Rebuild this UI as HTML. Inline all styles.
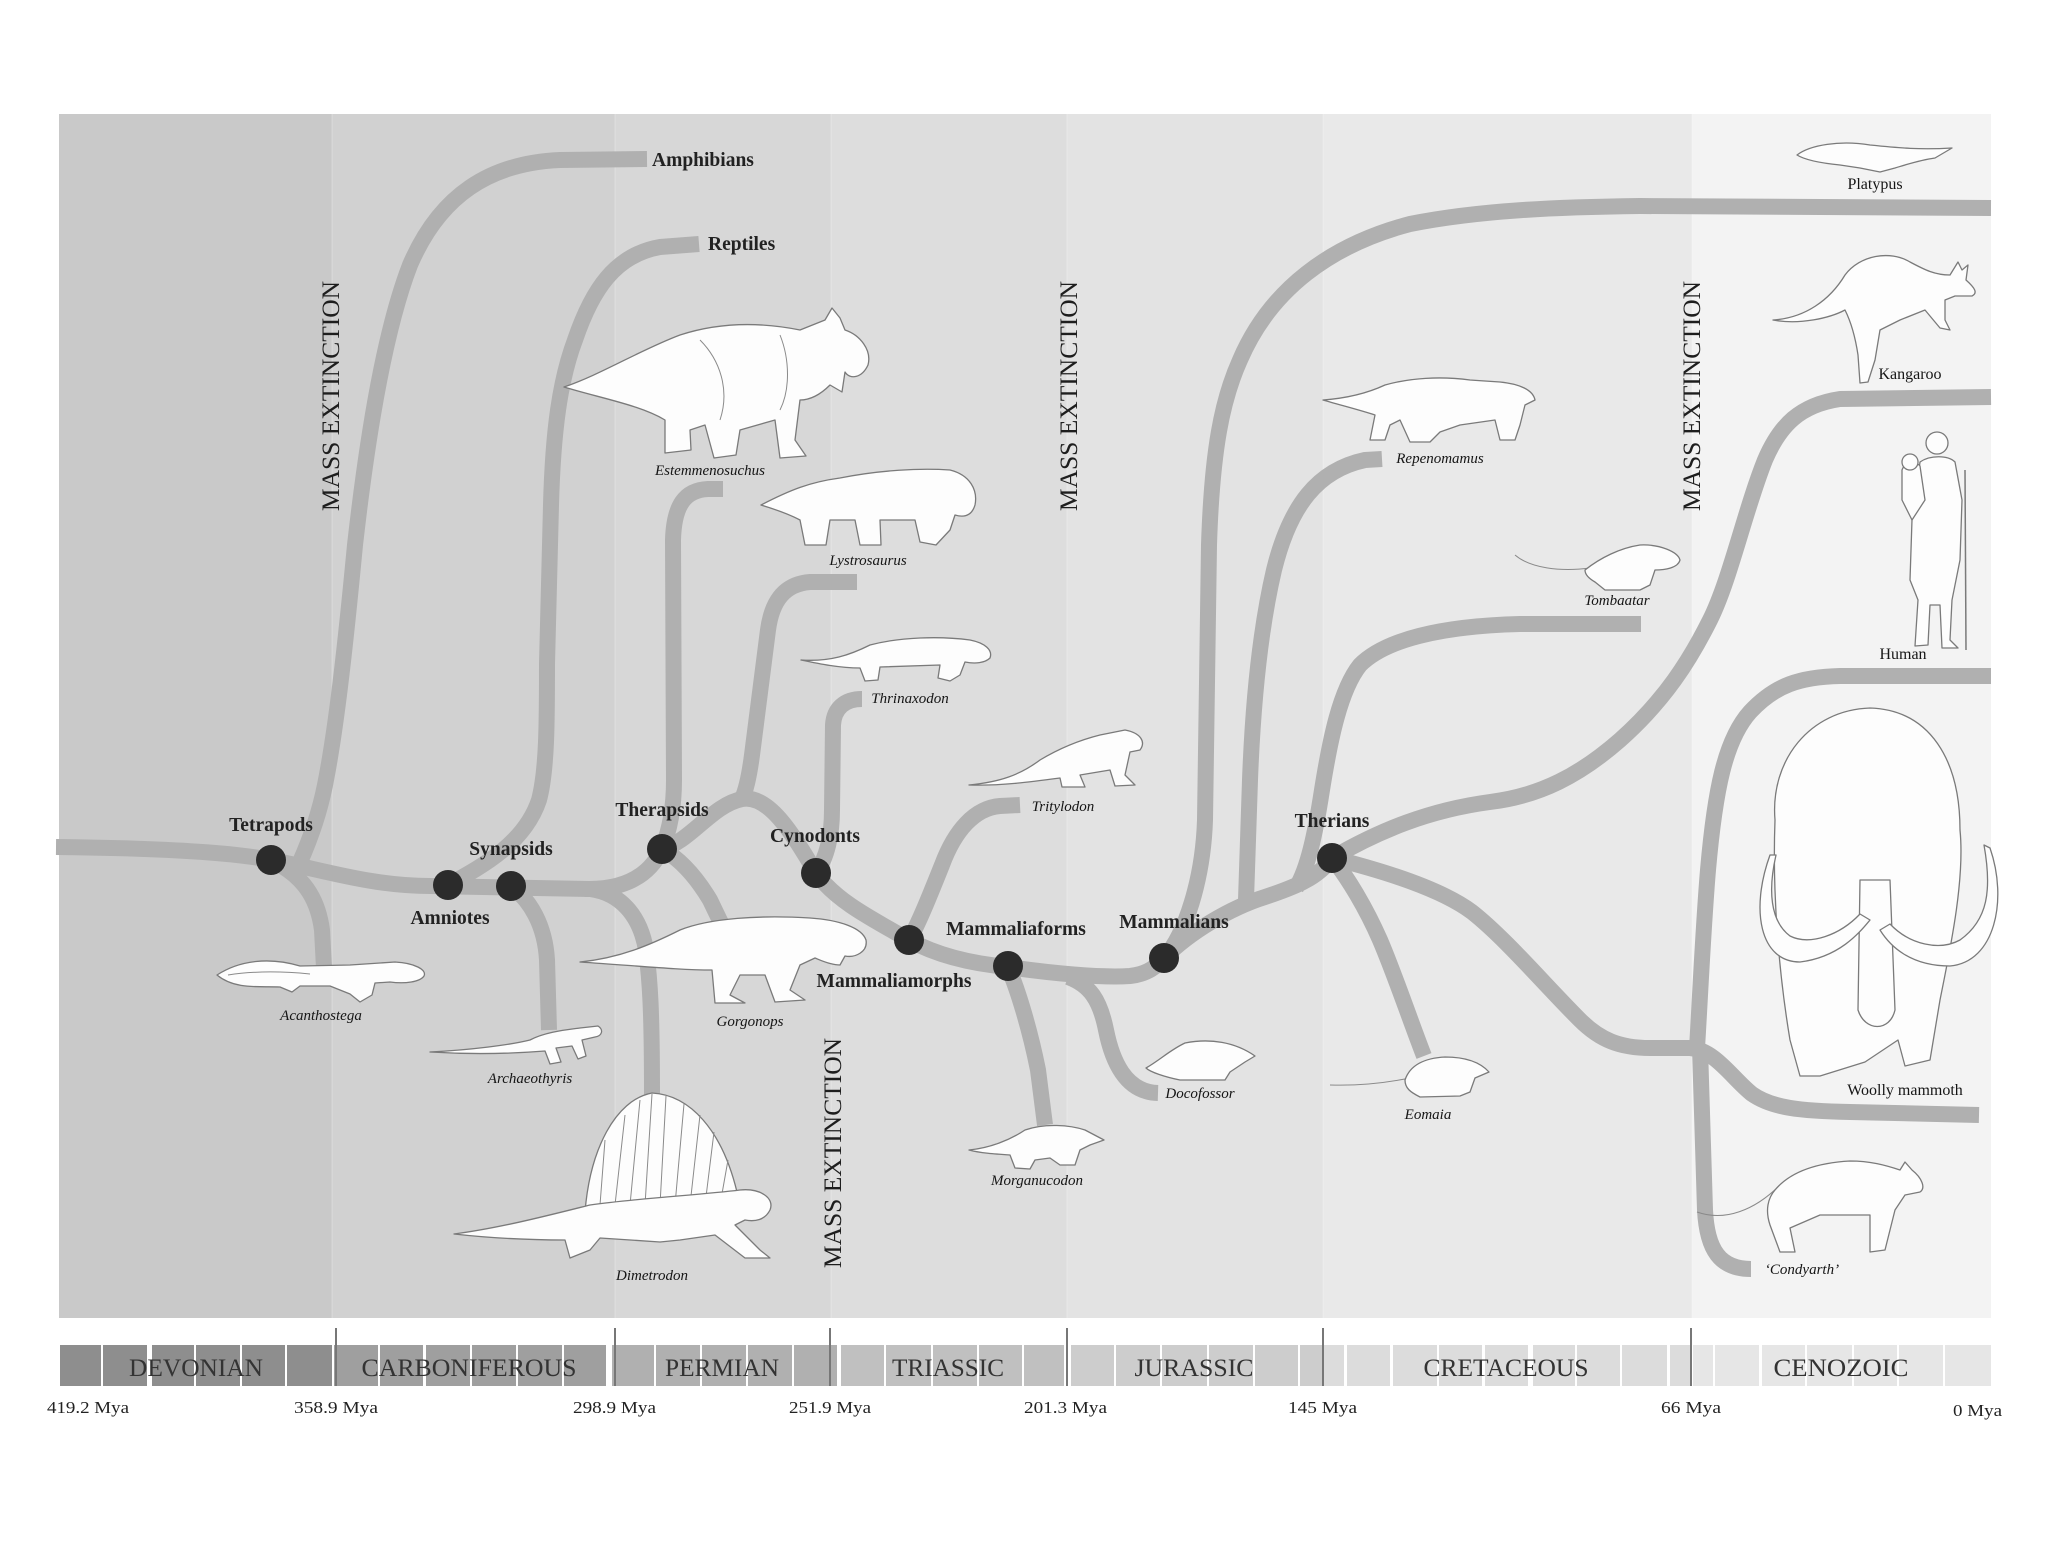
<!DOCTYPE html>
<html>
<head>
<meta charset="utf-8">
<style>
html,body{margin:0;padding:0;background:#fff;}
svg{display:block;}
text{font-family:"Liberation Serif",serif;fill:#222;}
.node{font-size:19.5px;font-weight:bold;text-anchor:middle;}
.clade{font-size:19.5px;font-weight:bold;}
.sp{font-size:15px;font-style:italic;text-anchor:middle;fill:#151515;}
.com{font-size:16px;text-anchor:middle;fill:#151515;}
.me{font-size:25.5px;text-anchor:middle;fill:#1e1e1e;}
.per{font-size:25px;text-anchor:middle;fill:#333;}
.tick{font-size:17px;fill:#222;}
.br{fill:none;stroke:#b0b0b0;stroke-width:16;stroke-linejoin:round;}
.an{fill:#fdfdfd;stroke:#7a7a7a;stroke-width:1.3;stroke-linejoin:round;}
.ln{fill:none;stroke:#8a8a8a;stroke-width:1;}
</style>
</head>
<body>
<svg width="2048" height="1566" viewBox="0 0 2048 1566" xmlns="http://www.w3.org/2000/svg">
<rect x="0" y="0" width="2048" height="1566" fill="#ffffff"/>

<!-- period background columns -->
<rect x="59" y="114" width="273" height="1204" fill="#c9c9c9"/>
<rect x="332" y="114" width="283" height="1204" fill="#d1d1d1"/>
<rect x="615" y="114" width="216" height="1204" fill="#d7d7d7"/>
<rect x="831" y="114" width="236" height="1204" fill="#dddddd"/>
<rect x="1067" y="114" width="256" height="1204" fill="#e3e3e3"/>
<rect x="1323" y="114" width="369" height="1204" fill="#e9e9e9"/>
<rect x="1692" y="114" width="299" height="1204" fill="#f3f3f3"/>
<g stroke="#ffffff" stroke-opacity="0.18" stroke-width="1.5">
<line x1="332" y1="114" x2="332" y2="1318"/>
<line x1="615" y1="114" x2="615" y2="1318"/>
<line x1="831" y1="114" x2="831" y2="1318"/>
<line x1="1067" y1="114" x2="1067" y2="1318"/>
<line x1="1323" y1="114" x2="1323" y2="1318"/>
<line x1="1692" y1="114" x2="1692" y2="1318"/>
</g>

<!-- mass extinction labels -->
<text class="me" transform="translate(339,396) rotate(-90)">MASS EXTINCTION</text>
<text class="me" transform="translate(1077,396) rotate(-90)">MASS EXTINCTION</text>
<text class="me" transform="translate(1700,396) rotate(-90)">MASS EXTINCTION</text>
<text class="me" transform="translate(841,1153) rotate(-90)">MASS EXTINCTION</text>

<!-- branches -->
<g class="br">
<path d="M56,847 C150,848 230,852 271,860 C320,869 370,886 430,886 L590,889"/>
<path d="M585,889 C625,890 650,875 662,849"/>
<path d="M590,889 C620,893 640,915 646,950 C650,980 652,1010 652,1095"/>
<path d="M723,489 L708,489 C685,490 674,505 673,540 L674,780 C674,810 669,832 662,849"/>
<path d="M662,849 C682,860 698,880 710,900 L722,925"/>
<path d="M662,849 C690,842 712,805 742,799 C770,794 795,838 816,873"/>
<path d="M857,582 L810,582 C785,584 772,600 768,630 L752,755 C749,778 746,790 742,799"/>
<path d="M816,873 C827,858 832,835 832,810 L833,725 C834,708 845,699 862,699"/>
<path d="M816,873 C835,900 870,918 909,940 C940,957 975,964 1008,967 C1050,973 1100,978 1130,976 C1148,974 1157,966 1164,958 C1190,932 1230,908 1265,897 C1295,887 1318,878 1332,858"/>
<path d="M909,940 C918,925 930,895 942,865 C955,830 975,808 1000,806 L1020,805"/>
<path d="M1008,967 C1018,990 1030,1030 1038,1070 L1045,1125"/>
<path d="M1068,977 C1090,985 1100,1000 1106,1030 C1112,1060 1125,1092 1158,1093"/>
<path d="M1164,958 C1185,935 1203,880 1205,820 L1209,545 C1212,450 1222,400 1240,360 C1270,290 1330,245 1410,224 C1480,210 1560,207 1640,206 L1991,208"/>
<path d="M1382,459 L1365,460 C1318,470 1290,505 1274,570 C1260,630 1253,700 1250,780 L1246,900"/>
<path d="M1641,624 L1520,624 C1440,626 1385,640 1360,665 C1340,690 1330,740 1322,790 C1315,835 1308,868 1296,888"/>
<path d="M1332,858 C1380,830 1430,810 1490,802 C1540,796 1580,775 1620,740 C1665,700 1690,660 1710,620 C1730,580 1745,510 1765,460 C1780,425 1800,405 1840,399 L1991,397"/>
<path d="M1332,858 C1380,870 1440,888 1472,912 C1505,938 1545,985 1580,1020 C1600,1040 1620,1048 1650,1048 L1697,1048"/>
<path d="M1697,1048 C1700,1000 1703,930 1708,870 C1715,790 1725,740 1750,712 C1775,685 1800,677 1840,676 L1991,676"/>
<path d="M1690,1048 C1715,1050 1732,1078 1752,1094 C1772,1108 1800,1111 1850,1112 L1979,1115"/>
<path d="M1700,1048 L1705,1210 C1707,1250 1720,1269 1751,1269"/>
<path d="M1332,858 C1348,878 1366,908 1380,940 C1395,975 1410,1020 1424,1056"/>
<path d="M300,862 C312,835 320,810 325,785 C336,730 345,650 355,545 C368,430 385,330 410,265 C440,195 490,163 560,160 L647,159"/>
<path d="M282,866 C305,880 318,900 322,930 L324,968"/>
<path d="M448,885 C485,865 525,842 539,800 C547,770 547,720 547,664 L551,505 C553,430 560,380 575,340 C592,290 615,255 660,247 L699,244"/>
<path d="M511,886 C530,900 545,925 547,960 L549,1030"/>
</g>

<!-- animals -->
<!-- Acanthostega -->
<path class="an" d="M217,975 C240,960 270,957 300,966 L350,965 L395,962 C415,963 427,970 424,976 C420,982 405,984 390,982 L375,983 L372,995 L360,1002 L350,994 L330,986 L300,986 L292,992 L280,987 C260,986 235,990 217,975 Z"/>
<path class="ln" d="M228,975 C260,970 290,972 310,974"/>
<!-- Archaeothyris -->
<path class="an" d="M430,1052 C470,1050 510,1045 530,1040 C545,1032 565,1030 580,1028 L598,1026 C604,1030 602,1036 595,1037 L582,1040 L586,1056 L578,1059 L572,1046 L556,1048 L561,1062 L550,1064 L545,1051 C520,1053 480,1055 430,1052 Z"/>
<!-- Estemmenosuchus -->
<path class="an" d="M564,387 C600,375 640,350 680,335 C720,322 760,322 800,330 L825,320 L832,308 L840,318 L845,330 C860,335 872,350 868,365 C862,378 850,380 845,372 L842,392 L830,385 C820,395 810,400 800,400 L795,440 L806,456 L780,458 L775,420 L740,430 L736,455 L714,458 L705,425 L690,430 L691,450 L665,453 L665,420 C640,405 600,398 564,387 Z"/>
<path class="ln" d="M700,340 C720,360 730,390 720,420 M780,335 C790,360 790,390 780,410"/>
<!-- Lystrosaurus -->
<path class="an" d="M761,505 C790,490 810,482 840,478 C880,470 920,468 950,470 C970,475 978,490 975,505 C972,515 965,518 955,515 L950,530 L936,545 L920,542 L915,520 L880,520 L881,545 L860,545 L855,520 L830,520 L826,545 L805,545 L800,520 C785,512 770,508 761,505 Z"/>
<!-- Thrinaxodon -->
<path class="an" d="M801,660 C830,662 850,655 870,645 C900,637 940,636 970,640 C985,643 993,650 990,658 C985,663 975,664 965,662 L960,675 L950,681 L938,678 L940,665 L880,667 L878,680 L865,681 L860,668 C840,668 820,664 801,660 Z"/>
<!-- Gorgonops -->
<path class="an" d="M580,962 C620,958 650,945 680,930 C710,918 760,915 810,918 C840,920 862,928 866,940 C868,952 855,958 845,956 L840,965 C830,965 820,960 815,958 L800,965 L790,990 L805,1000 L775,1002 L765,975 L740,975 L730,995 L745,1003 L715,1003 L712,970 C680,970 640,966 580,962 Z"/>
<!-- Dimetrodon -->
<path class="an" d="M585,1212 C590,1150 615,1100 652,1093 C690,1095 722,1130 737,1192 L737,1212 Z"/>
<g class="ln">
<path d="M600,1205 L605,1140 M615,1205 L625,1115 M630,1205 L640,1100 M645,1205 L652,1094 M660,1205 L666,1096 M675,1205 L684,1104 M690,1205 L700,1115 M705,1205 L714,1132 M720,1205 L728,1160"/>
</g>
<path class="an" d="M454,1234 C500,1228 550,1215 590,1205 C640,1198 700,1195 740,1190 C760,1188 775,1198 770,1210 C765,1220 755,1222 745,1220 L735,1225 L760,1250 L770,1258 L745,1258 L715,1235 L680,1240 L660,1242 L600,1238 L590,1250 L570,1258 L565,1240 C530,1240 490,1238 454,1234 Z"/>
<!-- Tritylodon -->
<path class="an" d="M969,785 C1000,782 1020,775 1040,760 C1060,748 1080,740 1100,735 L1125,730 C1141,733 1146,742 1140,750 L1130,752 L1125,775 L1135,785 L1115,786 L1110,770 L1080,775 L1085,787 L1062,787 L1060,778 C1030,782 1000,786 969,785 Z"/>
<!-- Morganucodon -->
<path class="an" d="M969,1150 C990,1148 1010,1140 1025,1130 C1045,1123 1070,1125 1085,1130 L1104,1140 L1090,1145 L1080,1150 L1075,1165 L1060,1165 L1050,1158 L1035,1160 L1030,1169 L1015,1168 L1010,1155 C995,1154 980,1153 969,1150 Z"/>
<!-- Docofossor -->
<path class="an" d="M1146,1068 C1160,1060 1170,1050 1185,1043 C1210,1038 1235,1042 1255,1056 L1245,1062 L1230,1072 L1225,1080 L1180,1080 C1165,1077 1150,1072 1146,1068 Z"/>
<!-- Repenomamus -->
<path class="an" d="M1323,400 C1350,398 1370,392 1385,385 C1410,378 1440,376 1470,380 L1500,382 C1520,384 1533,390 1535,400 L1525,405 L1520,425 L1515,440 L1500,440 L1495,420 L1460,425 L1440,432 L1430,442 L1410,442 L1400,420 L1390,425 L1385,440 L1370,440 L1375,415 C1360,410 1340,405 1323,400 Z"/>
<!-- Tombaatar -->
<path class="ln" d="M1515,555 C1530,568 1560,572 1590,568" stroke-width="2"/>
<path class="an" d="M1585,570 C1600,558 1620,548 1640,545 C1660,544 1678,552 1680,560 C1678,568 1665,570 1655,570 L1650,585 L1640,590 L1605,590 L1595,582 C1588,578 1585,574 1585,570 Z"/>
<!-- Platypus -->
<path class="an" d="M1797,155 C1810,145 1840,140 1870,145 C1900,148 1920,150 1952,148 L1935,158 C1920,160 1905,165 1895,168 L1880,172 L1860,168 L1840,165 C1820,163 1805,160 1797,155 Z"/>
<!-- Kangaroo -->
<path class="an" d="M1773,320 C1805,318 1830,300 1845,275 C1860,255 1890,250 1910,262 C1925,270 1935,275 1950,275 L1958,262 L1962,270 L1968,265 L1966,280 C1975,288 1978,293 1972,296 L1955,296 L1945,300 L1945,320 L1950,330 L1940,328 L1925,310 L1900,320 L1880,330 L1875,360 L1868,382 L1860,383 L1858,355 C1855,335 1850,320 1845,310 C1830,318 1800,325 1773,320 Z"/>
<!-- Human -->
<g>
<line x1="1965" y1="470" x2="1966" y2="650" stroke="#7a7a7a" stroke-width="1.5"/>
<path class="an" d="M1920,462 C1930,455 1948,455 1955,462 L1962,500 L1960,560 L1952,600 L1950,640 L1958,648 L1942,648 L1940,605 L1930,605 L1928,645 L1915,646 L1918,600 L1910,580 L1912,520 Z"/>
<circle class="an" cx="1937" cy="443" r="11"/>
<path class="an" d="M1902,470 C1905,462 1915,460 1920,466 L1925,500 L1912,520 L1902,500 Z"/>
<circle class="an" cx="1910" cy="462" r="8"/>
</g>
<!-- Woolly mammoth -->
<path class="an" d="M1775,820 C1770,760 1810,710 1870,708 C1930,710 1960,760 1960,830 C1965,880 1950,950 1940,1000 L1930,1060 L1905,1066 L1898,1040 L1865,1062 L1820,1076 L1800,1076 L1790,1040 C1780,980 1772,900 1775,820 Z"/>
<path class="an" d="M1860,880 L1858,1010 C1865,1032 1890,1032 1895,1010 L1890,880 Z"/>
<path class="an" d="M1770,855 C1750,910 1760,962 1800,962 C1840,957 1860,932 1870,920 L1860,914 C1840,935 1810,946 1790,936 C1770,921 1768,890 1776,855 Z"/>
<path class="an" d="M1990,848 C2008,900 1995,962 1950,966 C1910,966 1890,946 1880,930 L1890,924 C1910,945 1940,951 1960,940 C1988,920 1992,890 1984,845 Z"/>
<!-- Condylarth -->
<path class="ln" d="M1697,1212 C1725,1222 1755,1210 1780,1185" stroke-width="2"/>
<path class="an" d="M1775,1190 C1790,1172 1815,1163 1850,1161 C1870,1161 1885,1165 1900,1170 L1905,1162 L1912,1170 C1922,1178 1926,1188 1920,1192 L1905,1195 L1895,1210 L1885,1250 L1870,1252 L1870,1215 L1820,1215 L1790,1228 L1795,1252 L1780,1252 L1770,1225 C1765,1210 1768,1198 1775,1190 Z"/>
<!-- Eomaia -->
<path class="ln" d="M1330,1085 C1360,1086 1390,1082 1410,1078" stroke-width="2"/>
<path class="an" d="M1405,1080 C1410,1065 1425,1058 1445,1057 C1465,1057 1480,1062 1489,1072 L1475,1078 L1470,1092 L1460,1096 L1420,1097 C1410,1092 1405,1088 1405,1080 Z"/>

<!-- nodes -->
<g fill="#2b2b2b">
<circle cx="271" cy="860" r="15"/>
<circle cx="448" cy="885" r="15"/>
<circle cx="511" cy="886" r="15"/>
<circle cx="662" cy="849" r="15"/>
<circle cx="816" cy="873" r="15"/>
<circle cx="909" cy="940" r="15"/>
<circle cx="1008" cy="966" r="15"/>
<circle cx="1164" cy="958" r="15"/>
<circle cx="1332" cy="858" r="15"/>
</g>

<!-- node labels -->
<text class="node" x="271" y="831">Tetrapods</text>
<text class="node" x="450" y="924">Amniotes</text>
<text class="node" x="511" y="855">Synapsids</text>
<text class="node" x="662" y="816">Therapsids</text>
<text class="node" x="815" y="842">Cynodonts</text>
<text class="node" x="894" y="987">Mammaliamorphs</text>
<text class="node" x="1016" y="935">Mammaliaforms</text>
<text class="node" x="1174" y="928">Mammalians</text>
<text class="node" x="1332" y="827">Therians</text>
<text class="clade" x="652" y="166">Amphibians</text>
<text class="clade" x="708" y="250">Reptiles</text>

<!-- species labels -->
<text class="sp" x="321" y="1020">Acanthostega</text>
<text class="sp" x="530" y="1083">Archaeothyris</text>
<text class="sp" x="652" y="1280">Dimetrodon</text>
<text class="sp" x="710" y="475">Estemmenosuchus</text>
<text class="sp" x="868" y="565">Lystrosaurus</text>
<text class="sp" x="910" y="703">Thrinaxodon</text>
<text class="sp" x="750" y="1026">Gorgonops</text>
<text class="sp" x="1063" y="811">Tritylodon</text>
<text class="sp" x="1037" y="1185">Morganucodon</text>
<text class="sp" x="1200" y="1098">Docofossor</text>
<text class="sp" x="1440" y="463">Repenomamus</text>
<text class="sp" x="1617" y="605">Tombaatar</text>
<text class="sp" x="1428" y="1119">Eomaia</text>
<text class="sp" x="1802" y="1274">‘Condyarth’</text>
<text class="com" x="1875" y="189">Platypus</text>
<text class="com" x="1910" y="379">Kangaroo</text>
<text class="com" x="1903" y="659">Human</text>
<text class="com" x="1905" y="1095">Woolly mammoth</text>

<!-- timeline bar -->
<g fill="#8e8e8e">
<rect x="60" y="1345" width="41" height="41"/><rect x="103" y="1345" width="44" height="41"/><rect x="152" y="1345" width="42" height="41"/><rect x="196" y="1345" width="44" height="41"/><rect x="242" y="1345" width="43" height="41"/><rect x="287" y="1345" width="45" height="41"/>
</g>
<g fill="#9f9f9f">
<rect x="334" y="1345" width="44" height="41"/><rect x="380" y="1345" width="43" height="41"/><rect x="426" y="1345" width="44" height="41"/><rect x="472" y="1345" width="44" height="41"/><rect x="518" y="1345" width="44" height="41"/><rect x="564" y="1345" width="42" height="41"/>
</g>
<g fill="#b0b0b0">
<rect x="612" y="1345" width="42" height="41"/><rect x="656" y="1345" width="44" height="41"/><rect x="702" y="1345" width="44" height="41"/><rect x="748" y="1345" width="44" height="41"/><rect x="794" y="1345" width="43" height="41"/>
</g>
<g fill="#c0c0c0">
<rect x="841" y="1345" width="43" height="41"/><rect x="886" y="1345" width="45" height="41"/><rect x="933" y="1345" width="44" height="41"/><rect x="979" y="1345" width="43" height="41"/><rect x="1024" y="1345" width="40" height="41"/>
</g>
<g fill="#cdcdcd">
<rect x="1071" y="1345" width="43" height="41"/><rect x="1116" y="1345" width="44" height="41"/><rect x="1162" y="1345" width="45" height="41"/><rect x="1209" y="1345" width="44" height="41"/><rect x="1255" y="1345" width="43" height="41"/><rect x="1300" y="1345" width="22" height="41"/>
</g>
<g fill="#dcdcdc">
<rect x="1324" y="1345" width="20" height="41"/><rect x="1347" y="1345" width="43" height="41"/><rect x="1393" y="1345" width="44" height="41"/><rect x="1439" y="1345" width="43" height="41"/><rect x="1485" y="1345" width="43" height="41"/><rect x="1533" y="1345" width="42" height="41"/><rect x="1577" y="1345" width="43" height="41"/><rect x="1622" y="1345" width="45" height="41"/><rect x="1670" y="1345" width="20" height="41"/>
</g>
<g fill="#e6e6e6">
<rect x="1693" y="1345" width="20" height="41"/><rect x="1715" y="1345" width="44" height="41"/><rect x="1762" y="1345" width="43" height="41"/><rect x="1807" y="1345" width="45" height="41"/><rect x="1854" y="1345" width="43" height="41"/><rect x="1899" y="1345" width="44" height="41"/><rect x="1945" y="1345" width="46" height="41"/>
</g>
<g stroke="#777" stroke-width="2">
<line x1="336" y1="1328" x2="336" y2="1386"/>
<line x1="615" y1="1328" x2="615" y2="1386"/>
<line x1="830" y1="1328" x2="830" y2="1386"/>
<line x1="1067" y1="1328" x2="1067" y2="1386"/>
<line x1="1323" y1="1328" x2="1323" y2="1386"/>
<line x1="1691" y1="1328" x2="1691" y2="1386"/>
</g>

<text class="per" x="196" y="1376" textLength="134" lengthAdjust="spacingAndGlyphs">DEVONIAN</text>
<text class="per" x="469" y="1376" textLength="215" lengthAdjust="spacingAndGlyphs">CARBONIFEROUS</text>
<text class="per" x="722" y="1376" textLength="114" lengthAdjust="spacingAndGlyphs">PERMIAN</text>
<text class="per" x="948" y="1376" textLength="112" lengthAdjust="spacingAndGlyphs">TRIASSIC</text>
<text class="per" x="1194" y="1376" textLength="119" lengthAdjust="spacingAndGlyphs">JURASSIC</text>
<text class="per" x="1506" y="1376" textLength="165" lengthAdjust="spacingAndGlyphs">CRETACEOUS</text>
<text class="per" x="1841" y="1376" textLength="135" lengthAdjust="spacingAndGlyphs">CENOZOIC</text>

<text class="tick" x="47" y="1413" textLength="82" lengthAdjust="spacingAndGlyphs">419.2 Mya</text>
<text class="tick" x="294" y="1413" textLength="84" lengthAdjust="spacingAndGlyphs">358.9 Mya</text>
<text class="tick" x="573" y="1413" textLength="83" lengthAdjust="spacingAndGlyphs">298.9 Mya</text>
<text class="tick" x="789" y="1413" textLength="82" lengthAdjust="spacingAndGlyphs">251.9 Mya</text>
<text class="tick" x="1024" y="1413" textLength="83" lengthAdjust="spacingAndGlyphs">201.3 Mya</text>
<text class="tick" x="1288" y="1413" textLength="69" lengthAdjust="spacingAndGlyphs">145 Mya</text>
<text class="tick" x="1661" y="1413" textLength="60" lengthAdjust="spacingAndGlyphs">66 Mya</text>
<text class="tick" x="1953" y="1416" textLength="49" lengthAdjust="spacingAndGlyphs">0 Mya</text>
</svg>
</body>
</html>
